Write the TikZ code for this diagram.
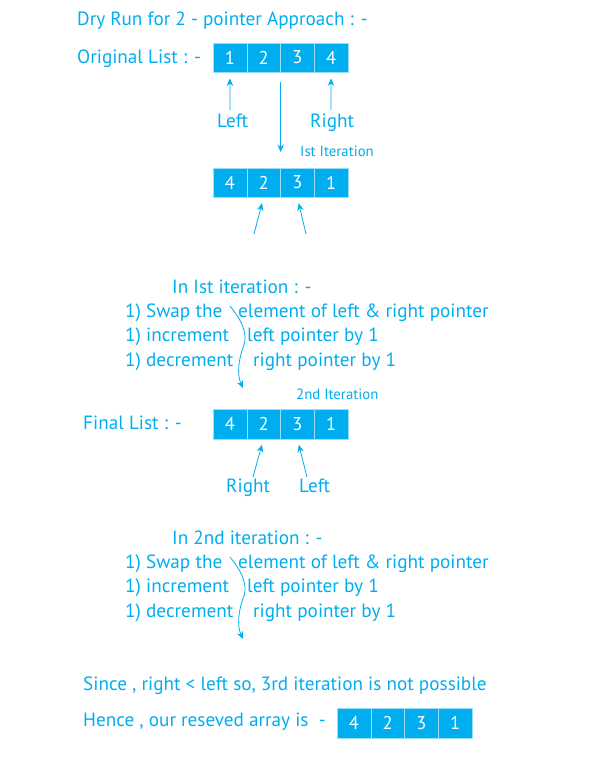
\documentclass[tikz,border=0pt]{standalone}
\usepackage{fontspec}
\setmainfont{PT Sans}
\usetikzlibrary{arrows.meta}
\definecolor{sky}{HTML}{00AEEF}
\begin{document}
\begin{tikzpicture}[x=1pt, y=-1pt,
    txt/.style={anchor=base west, inner sep=0pt, text=sky, font=\fontsize{19.2}{22}\selectfont},
    small/.style={txt, font=\fontsize{14.8}{17}\selectfont},
    cell/.style={draw=sky!40, fill=sky, text=white, minimum width=33.75pt, minimum height=29.5pt, inner sep=0pt, font=\fontsize{18.5}{21}\selectfont},
    ptr/.style={draw=sky, line width=0.8pt, -{Stealth[length=7.5pt, width=6.5pt, inset=2.5pt]}}]
    \useasboundingbox (0,0) rectangle (596,757);
    % the lists
    \foreach \v [count=\i] in {1,2,3,4}
        \node[cell] (a\i) at (196.1+33.75*\i, 57.5) {\v};
    \foreach \v [count=\i] in {4,2,3,1} {
        \node[cell] (b\i) at (196.1+33.75*\i, 182.5) {\v};
        \node[cell] (c\i) at (196.1+33.75*\i, 424) {\v};
        \node[cell] (d\i) at (320.1+33.75*\i, 723) {\v};
    }
    % headings and pointer labels
    \node[txt] (title) at (77,26) {Dry Run for 2 - pointer Approach : -};
    \node[txt] (orig) at (77,64) {Original List : -};
    \node[txt] (left1) at (217,128) {Left};
    \node[txt] (right1) at (310,128) {Right};
    \node[small] (iter1) at (300,157) {Ist Iteration};
    \coordinate (l1) at (230,110);
    \coordinate (r1) at (331,110);
    \draw[ptr, shorten >=6pt] (l1) -- (a1.south);
    \draw[ptr, shorten >=6pt] (r1) -- (a4.south);
    \draw[ptr, shorten <=10pt, shorten >=15.5pt] (a2.south east) -- (b2.north east);
    \coordinate (q1) at (254,234);
    \coordinate (q2) at (306,234);
    \draw[ptr, shorten >=6pt] (q1) -- (b2.south);
    \draw[ptr, shorten >=6pt] (q2) -- (b3.south);
    % first iteration steps
    \node[txt] (in1) at (172,293) {In Ist iteration : -};
    \node[txt] (swap1) at (125,317) {1) Swap the};
    \node[txt] (swap1r) at (238,317) {element of left \& right pointer};
    \node[txt] (inc1) at (125,341.5) {1) increment};
    \node[txt] (inc1r) at (247,341.5) {left pointer by 1};
    \node[txt] (dec1) at (125,366) {1) decrement};
    \node[txt] (dec1r) at (253,366) {right pointer by 1};
    \coordinate (s1) at (230,306);
    \coordinate (e1) at (243,388);
    \draw[ptr] (s1) .. controls (240,318) and (248,332) .. (244,345) .. controls (238,360) and (237,375) .. (e1);
    % final list
    \node[small] (iter2) at (296,399) {2nd Iteration};
    \node[txt] (final) at (83,429) {Final List : -};
    \node[txt] (right2) at (226,492) {Right};
    \node[txt] (left2) at (299,492) {Left};
    \coordinate (q3) at (253,477);
    \coordinate (q4) at (307,477);
    \draw[ptr, shorten >=6pt] (q3) -- (c2.south);
    \draw[ptr, shorten >=6pt] (q4) -- (c3.south);
    % second iteration steps
    \node[txt] (in2) at (172,544) {In 2nd iteration : -};
    \node[txt] (swap2) at (125,568) {1) Swap the};
    \node[txt] (swap2r) at (238,568) {element of left \& right pointer};
    \node[txt] (inc2) at (125,592.5) {1) increment};
    \node[txt] (inc2r) at (247,592.5) {left pointer by 1};
    \node[txt] (dec2) at (125,617) {1) decrement};
    \node[txt] (dec2r) at (253,617) {right pointer by 1};
    \coordinate (s2) at (230,557);
    \coordinate (e2) at (243,639);
    \draw[ptr] (s2) .. controls (240,569) and (248,583) .. (244,596) .. controls (238,611) and (237,626) .. (e2);
    % conclusion
    \node[txt] (since) at (83,690) {Since , right < left so, 3rd iteration is not possible};
    \node[txt] (hence) at (83,726) {Hence , our reseved array is \ -};
\end{tikzpicture}
\end{document}
